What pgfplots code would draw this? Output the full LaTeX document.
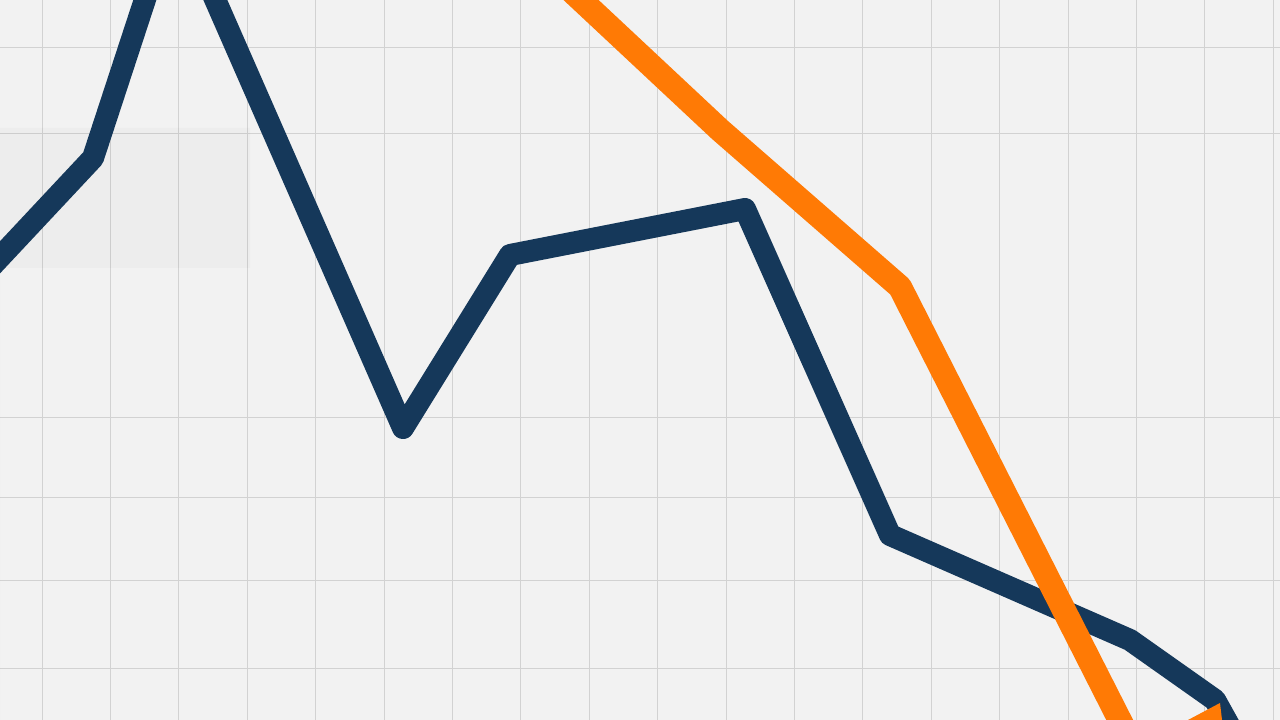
\documentclass[border=0pt]{standalone}
\usepackage{pgfplots}
\pgfplotsset{compat=1.18}
\definecolor{navy}{HTML}{15385A}
\definecolor{orng}{HTML}{FF7A05}
\definecolor{paper}{HTML}{F2F2F2}
\definecolor{gridc}{HTML}{D2D2D2}
\begin{document}
\begin{tikzpicture}
\begin{axis}[
    width=1280pt, height=720pt,
    scale only axis,
    xmin=0, xmax=1280,
    ymin=0, ymax=720,
    axis line style={draw=none},
    major tick length=0pt,
    xticklabels={}, yticklabels={},
    xtick={42,110.4,...,1280},
    ytick={51,139,222,302,586,672},
    grid=major,
    major grid style={gridc, line width=1pt},
    axis background/.style={fill=paper},
    clip=true,
]
\coordinate (sw) at (rel axis cs:0,0);
\coordinate (ne) at (rel axis cs:1,1);
% faint shaded band at upper left
\addplot [draw=none, fill=black, fill opacity=0.02] coordinates {
    (0,452) (250,452) (250,592) (0,592)} \closedcycle;
% navy series
\addplot [navy, line width=22pt, line join=round, line cap=round] coordinates {
    (-10,452) (93,562) (175,812) (403,292) (510,465) (745,511)
    (890,185) (1130,80) (1215,20) (1240,-25)
};
% orange series
\addplot [orng, line width=24pt, line join=round] coordinates {
    (565,735) (720,590) (900,433) (1140,-40)
};
% small orange tip at the lower right
\addplot [draw=none, fill=orng] coordinates {
    (1188,0) (1220,17) (1222,0)} \closedcycle;
\end{axis}
\pgfresetboundingbox
\path[use as bounding box] (sw) rectangle (ne);
\end{tikzpicture}
\end{document}
